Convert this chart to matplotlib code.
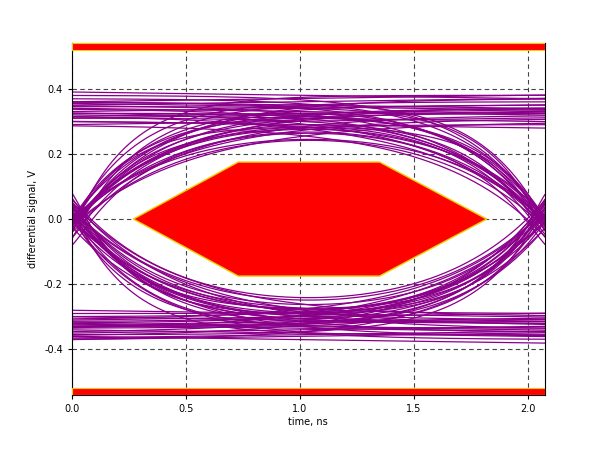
import matplotlib
matplotlib.use("Agg")
import matplotlib.pyplot as plt
import numpy as np

# crossing times of the two bit edges (ns)
CROSS_START = 0.03
CROSS_END = 2.05
HIGH_LEVELS = [0.38, 0.36, 0.35, 0.34, 0.33, 0.32, 0.31, 0.30, 0.29, 0.37, 0.345, 0.325]
LOW_LEVELS = [-0.37, -0.36, -0.35, -0.34, -0.33, -0.32, -0.31, -0.30, -0.29, -0.355, -0.335, -0.315]
# edge time constants (ns): spread of the eye edges
TAUS = [0.24, 0.28, 0.32, 0.36, 0.40, 0.44, 0.48, 0.52, 0.30, 0.38, 0.46, 0.34]
# small timing jitter per trace (ns)
JITTER = [0.0, 0.02, -0.02, 0.01, -0.01, 0.03, -0.03, 0.005, -0.005, 0.015, -0.015, 0.0]
# bit patterns (previous, current, next)
PATTERNS = [(0, 1, 1), (1, 1, 0), (0, 1, 0), (1, 0, 0), (0, 0, 1), (1, 0, 1), (1, 1, 1), (0, 0, 0)]

# mask hexagon and limits
MASK_T = [0.27, 0.73, 1.35, 1.82, 1.35, 0.73]
MASK_V = [0.0, 0.175, 0.175, 0.0, -0.175, -0.175]
LIMIT_V = 0.52


def step(x, tau):
    return np.where(x >= 0, 1 - 0.5 * np.exp(-np.clip(x, 0, None) / tau),
                    0.5 * np.exp(np.clip(x, None, 0) / tau))


t = np.linspace(0, 2.075, 400)

fig = plt.figure(figsize=(6.04, 4.54), dpi=100)
ax = fig.add_axes([0.119, 0.130, 0.783, 0.775])
ax.set_xlim(0, 2.075)
ax.set_ylim(-0.54, 0.54)
ax.grid(True, linestyle=(0, (4, 3)), color="#444444", linewidth=0.8)
ax.set_axisbelow(True)

purple = "#8b008b"
for p, (b0, b1, b2) in enumerate(PATTERNS):
    for i in range(len(TAUS)):
        hi = HIGH_LEVELS[(i + p) % len(HIGH_LEVELS)]
        lo = LOW_LEVELS[(i + 2 * p) % len(LOW_LEVELS)]
        tau = TAUS[(i + 3 * p) % len(TAUS)]
        j = JITTER[i]
        v = [hi if b else lo for b in (b0, b1, b2)]
        y = (v[0] + (v[1] - v[0]) * step(t - CROSS_START - j, tau)
             + (v[2] - v[1]) * step(t - CROSS_END + j, tau))
        if b0 == b1 == b2:
            y = y + 0.01 * (t - 1.0) * (1 if i % 2 else -1)
        ax.plot(t, y, color=purple, linewidth=0.9)

ax.fill(MASK_T, MASK_V, facecolor="red", edgecolor="#e8d000", linewidth=1.0, zorder=3)
ax.axhspan(LIMIT_V, 0.54, facecolor="red", edgecolor="#e8d000", linewidth=0.8, zorder=3)
ax.axhspan(-0.54, -LIMIT_V, facecolor="red", edgecolor="#e8d000", linewidth=0.8, zorder=3)

ax.set_xticks([0.0, 0.5, 1.0, 1.5, 2.0])
ax.set_yticks([-0.4, -0.2, 0.0, 0.2, 0.4])
ax.xaxis.set_major_formatter(matplotlib.ticker.FormatStrFormatter("%.1f"))
ax.yaxis.set_major_formatter(matplotlib.ticker.FormatStrFormatter("%.1f"))
ax.tick_params(labelsize=7, length=3)
ax.set_xlabel("time, ns", fontsize=7, labelpad=2)
ax.set_ylabel("differential signal, V", fontsize=7)

fig.savefig("out.png", dpi=100)
